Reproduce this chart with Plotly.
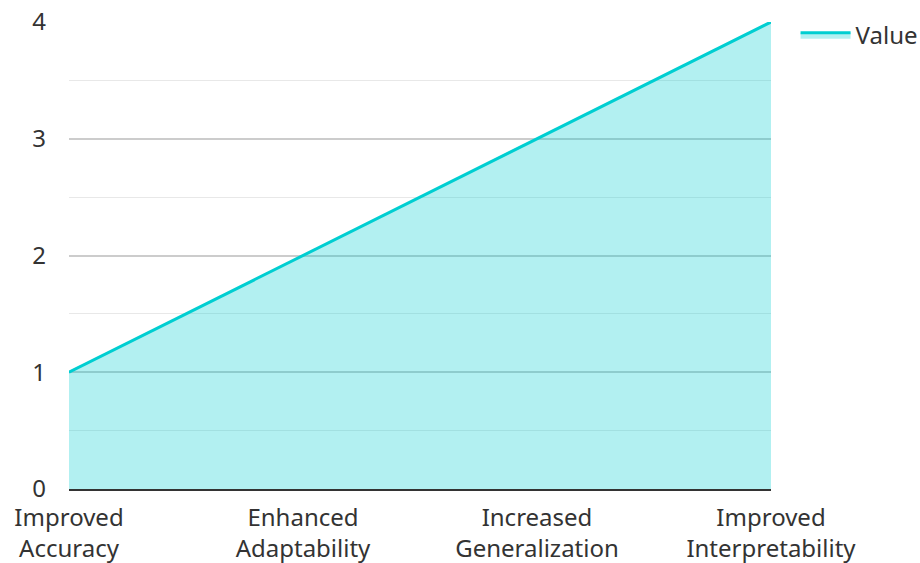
import plotly.graph_objects as go

categories = ["Improved<br>Accuracy", "Enhanced<br>Adaptability", "Increased<br>Generalization", "Improved<br>Interpretability"]
values = [1, 2, 3, 4]
series_name = "Value"

fig = go.Figure()
fig.add_trace(go.Scatter(
    x=categories, y=values, name=series_name, mode="lines",
    line=dict(color="#00CED1", width=3),
    fill="tozeroy", fillcolor="rgba(0,206,209,0.3)",
))

font = dict(family="Noto Sans, Open Sans, sans-serif", size=24, color="#333333")
fig.update_layout(
    width=920, height=563,
    margin=dict(l=69, r=149, t=22, b=74, autoexpand=False),
    paper_bgcolor="white", plot_bgcolor="white",
    font=font,
    showlegend=True,
    legend=dict(x=1.035, y=1.02, xanchor="left", yanchor="top", font=font,
                bgcolor="rgba(0,0,0,0)", itemwidth=50),
)
fig.update_xaxes(
    type="category", range=[0, 3], showgrid=False,
    showline=True, linecolor="#333333", linewidth=2,
    ticks="", tickfont=font, fixedrange=True, automargin=False,
    ticklabelstandoff=6,
)
fig.update_yaxes(
    range=[0, 4], dtick=1, showgrid=True, gridcolor="#cccccc", gridwidth=1.5,
    minor=dict(dtick=0.5, showgrid=True, gridcolor="#e8e8e8", gridwidth=1),
    zeroline=False, showline=False, ticks="", tickfont=font,
    ticklabelstandoff=22, fixedrange=True, automargin=False,
)

fig.write_html("out.html")
